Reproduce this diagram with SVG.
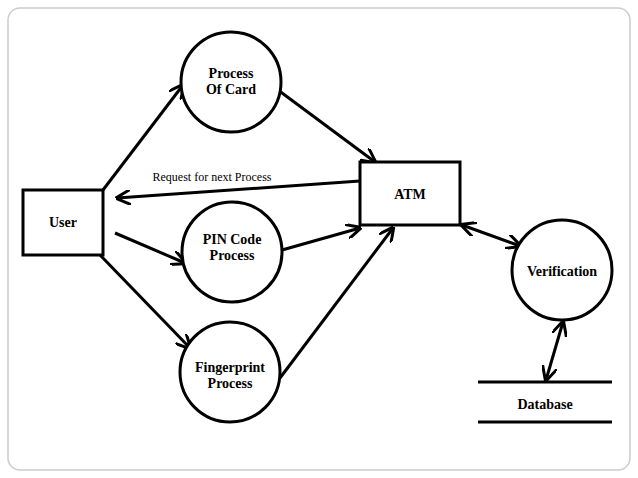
<svg xmlns="http://www.w3.org/2000/svg" width="638" height="478" viewBox="0 0 638 478">
<style>
.s{fill:#fff;stroke:#000;stroke-width:3}
.t{font-family:"Liberation Serif",serif;font-weight:bold;font-size:14px;text-anchor:middle}
.c line{stroke:#000;stroke-width:3}
</style>
<defs><marker id="a" viewBox="0 0 10 10" refX="9" refY="5" markerWidth="5" markerHeight="5" orient="auto-start-reverse"><path d="M0,0L10,5L0,10" fill="none" stroke="#000" stroke-width="2"/></marker></defs>
<rect width="638" height="478" fill="#fff"/>
<rect x="8" y="8" width="622" height="462" rx="12" fill="none" stroke="#ccc" stroke-width="1.5"/>
<g class="c">
<line x1="103" y1="190" x2="183" y2="85" marker-end="url(#a)"/>
<line x1="278" y1="90" x2="375" y2="162" marker-end="url(#a)"/>
<line x1="360" y1="181" x2="117" y2="198" marker-end="url(#a)"/>
<line x1="115" y1="233" x2="185" y2="263" marker-end="url(#a)"/>
<line x1="282" y1="250" x2="360" y2="228" marker-end="url(#a)"/>
<line x1="100" y1="255" x2="190" y2="348" marker-end="url(#a)"/>
<line x1="280" y1="378" x2="393" y2="228" marker-end="url(#a)"/>
<line x1="462" y1="225" x2="520" y2="246" marker-start="url(#a)" marker-end="url(#a)"/>
<line x1="563" y1="322" x2="546" y2="380" marker-start="url(#a)" marker-end="url(#a)"/>
<line x1="478" y1="382" x2="612" y2="382"/>
<line x1="478" y1="422" x2="612" y2="422"/>
</g>
<text x="212" y="181" font-family="Liberation Serif,serif" font-size="12" text-anchor="middle">Request for next Process</text>
<g id="user"><rect class="s" x="23" y="190" width="80" height="65"/><text class="t" x="63" y="227">User</text></g>
<g id="card"><circle class="s" cx="231" cy="82" r="50"/><text class="t" x="231" y="78">Process</text><text class="t" x="231" y="94">Of Card</text></g>
<g id="pin"><circle class="s" cx="232" cy="252" r="50"/><text class="t" x="232" y="244">PIN Code</text><text class="t" x="232" y="260">Process</text></g>
<g id="fp"><circle class="s" cx="230" cy="372" r="50"/><text class="t" x="230" y="372">Fingerprint</text><text class="t" x="230" y="388">Process</text></g>
<g id="atm"><rect class="s" x="360" y="162" width="100" height="63"/><text class="t" x="410" y="199">ATM</text></g>
<g id="ver"><circle class="s" cx="562" cy="270" r="50"/><text class="t" x="562" y="276">Verification</text></g>
<g id="db"><text class="t" x="545" y="409">Database</text></g>
</svg>
